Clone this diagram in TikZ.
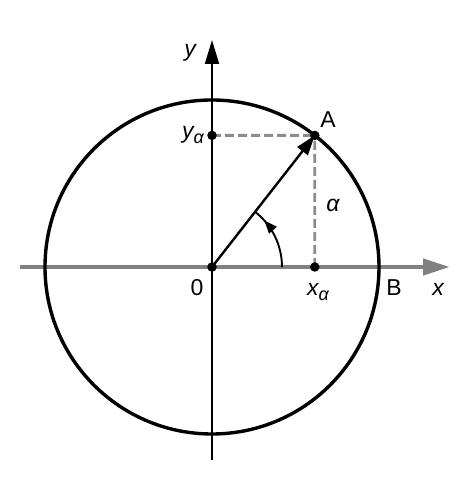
\documentclass[tikz,border=0pt]{standalone}
\usepackage{fontspec}
\setmainfont{Liberation Sans}
\usetikzlibrary{arrows.meta,decorations.markings}
\begin{document}
\begin{tikzpicture}[x=1pt,y=1pt,
  axisx/.style={line width=4.5pt,draw=black!50},
  axisy/.style={line width=2pt,draw=black},
  dashline/.style={line width=2.8pt,draw=black!45,dash pattern=on 9pt off 4pt},
  dot/.style={circle,fill=black,inner sep=0pt,minimum size=9.5pt},
  lbl/.style={font=\fontsize{23}{25}\selectfont,inner sep=1pt}]
\useasboundingbox (-212,-217) rectangle (262,267);
\coordinate (O) at (0,0);
\coordinate (xs) at (-192,0);
\coordinate (xe) at (238,0);
\coordinate (ys) at (0,-193);
\coordinate (ye) at (0,227);
% axes
\draw[axisx,-{Triangle[length=27pt,width=16pt]}] (xs) -- (xe);
\draw[axisy,-{Triangle[length=24pt,width=14pt]}] (ys) -- (ye);
% circle
\draw[line width=3.4pt] (O) circle (167);
% points
\coordinate (A) at (52:167);
\coordinate (Ax) at (102.8,0);
\coordinate (Ay) at (0,131.6);
\draw[dashline] (Ay) -- (A);
\draw[dashline] (Ax) -- (A);
\draw[line width=2.4pt,-{Triangle[length=20pt,width=13pt]}] (O) -- (A);
\node[dot] (dO) at (O) {};
\node[dot] (dA) at (A) {};
\node[dot] (dx) at (Ax) {};
\node[dot] (dy) at (Ay) {};
% angle arc
\draw[line width=1.9pt,
  postaction={decorate,decoration={markings,mark=at position 0.8 with {\arrow{Triangle[length=13pt,width=10pt]}}}}]
  (70,0) arc[start angle=0,end angle=52,radius=70];
% labels
\node[lbl] (ly) at (-22,214) {\itshape y};
\node[lbl,anchor=east] (lya) at (-7,131.6) {\itshape y\raisebox{-0.4ex}{\fontsize{18}{19}\selectfont α}};
\node[lbl] (lA) at (116,147) {A};
\node[lbl] (lal) at (121,62) {\itshape α};
\node[lbl] (lO) at (-15,-21) {0};
\node[lbl] (lxa) at (106,-25) {\itshape x\raisebox{-0.4ex}{\fontsize{18}{19}\selectfont α}};
\node[lbl] (lB) at (182,-21) {B};
\node[lbl] (lx) at (226,-22) {\itshape x};
\end{tikzpicture}
\end{document}
